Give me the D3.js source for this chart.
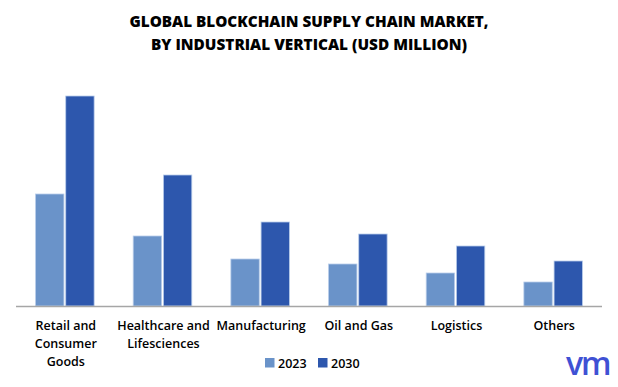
<!DOCTYPE html>
<html>
<head>
<meta charset="utf-8">
<script src="https://cdn.jsdelivr.net/npm/d3@7"></script>
<style>
  body { margin: 0; background: #fff; }
  text { font-family: "Open Sans", "Noto Sans", sans-serif; fill: #000; }
</style>
</head>
<body>
<script>
// chart values (no value axis shown, read as relative bar heights)
const categories = [
    ["Retail and", "Consumer", "Goods"],
    ["Healthcare and", "Lifesciences"],
    ["Manufacturing"],
    ["Oil and Gas"],
    ["Logistics"],
    ["Others"]
];
const seriesNames = ["2023", "2030"];
const values2023 = [112, 70, 47, 42, 33, 24];
const values2030 = [210, 131, 84, 72, 60, 45];
const titleLines = ["GLOBAL BLOCKCHAIN SUPPLY CHAIN MARKET,", "BY INDUSTRIAL VERTICAL (USD MILLION)"];

const colors = { "2023": "#6a93c9", "2030": "#2d57ad" };

const width = 618, height = 387;
const margin = { left: 16, right: 16, top: 96, bottom: 81 };

const svg = d3.select("body").append("svg")
    .attr("width", width)
    .attr("height", height);

// rows built from the arrays above
const rows = categories.map((c, i) => ({ key: i, label: c, "2023": values2023[i], "2030": values2030[i] }));

const x0 = d3.scaleBand()
    .domain(rows.map(d => d.key))
    .range([margin.left, width - margin.right])
    .paddingInner(0.4)
    .paddingOuter(0.2);

const x1 = d3.scaleBand()
    .domain(seriesNames)
    .range([0, x0.bandwidth()])
    .paddingInner(0.06);

const baseline = height - margin.bottom;
const y = d3.scaleLinear()
    .domain([0, d3.max(values2030)])
    .range([baseline, margin.top]);

// title
svg.append("g").selectAll("text")
    .data(titleLines)
    .join("text")
    .attr("x", 309)
    .attr("y", (d, i) => 27 + i * 23)
    .attr("text-anchor", "middle")
    .attr("font-size", 15.5)
    .attr("font-weight", 800)
    .attr("textLength", (d, i) => i === 0 ? 359 : 316)
    .attr("lengthAdjust", "spacingAndGlyphs")
    .text(d => d);

// bars
const groups = svg.append("g").selectAll("g")
    .data(rows)
    .join("g")
    .attr("transform", d => `translate(${x0(d.key)},0)`);

groups.selectAll("rect")
    .data(d => seriesNames.map(s => ({ s, v: d[s] })))
    .join("rect")
    .attr("x", d => x1(d.s))
    .attr("y", d => y(d.v))
    .attr("width", x1.bandwidth())
    .attr("height", d => baseline - y(d.v))
    .attr("fill", d => colors[d.s])
    .attr("stroke", "#b9cdea")
    .attr("stroke-width", 0.8);

// x axis line
svg.append("line")
    .attr("x1", margin.left)
    .attr("x2", width - margin.right)
    .attr("y1", baseline + 0.5)
    .attr("y2", baseline + 0.5)
    .attr("stroke", "#a6a6a6")
    .attr("stroke-width", 1.5);

// category labels
const labels = svg.append("g").selectAll("text")
    .data(rows)
    .join("text")
    .attr("text-anchor", "middle")
    .attr("font-size", 12.5)
    .attr("font-weight", 600);

labels.selectAll("tspan")
    .data(d => d.label.map(l => ({ l, cx: x0(d.key) + x0.bandwidth() / 2 + 1 })))
    .join("tspan")
    .attr("x", d => d.cx)
    .attr("y", (d, i) => 330 + i * 18)
    .text(d => d.l);

// legend
const legend = svg.append("g").selectAll("g")
    .data(seriesNames)
    .join("g")
    .attr("transform", (d, i) => `translate(${265 + i * 53},358)`);

legend.append("rect")
    .attr("width", 9.5)
    .attr("height", 9.5)
    .attr("fill", d => colors[d]);

legend.append("text")
    .attr("x", 13)
    .attr("y", 9.5)
    .attr("font-size", 12.5)
    .attr("font-weight", 600)
    .text(d => d);

// logo mark
svg.append("text")
    .attr("x", 566)
    .attr("y", 375)
    .attr("font-size", 32)
    .attr("font-weight", 600)
    .style("fill", "#3f51d4")
    .style("letter-spacing", "-2px")
    .text("vm");
</script>
</body>
</html>
